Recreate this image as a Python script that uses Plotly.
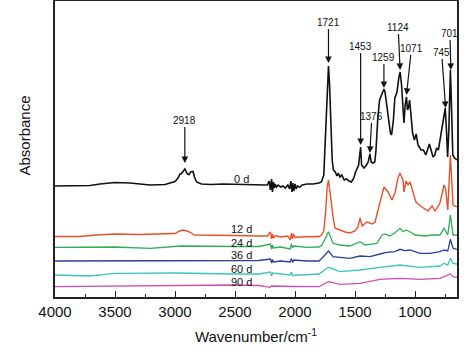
import plotly.graph_objects as go

# ---------------- data ----------------
wn_0d = [4000, 3875, 3708, 3625, 3500, 3375, 3208, 3083, 3042, 3000, 2975, 2958, 2946, 2918, 2896,
         2883, 2870, 2850, 2835, 2820, 2780, 2700, 2600, 2500, 2400, 2300, 2250,
         2230, 2215, 2205, 2195, 2188, 2180, 2172, 2165, 2155, 2140, 2120, 2100, 2080, 2060, 2045,
         2035, 2025, 2018, 2010, 2000, 1990, 1980, 1960, 1940, 1900, 1850, 1800,
         1780, 1760, 1745, 1730, 1721, 1712, 1700, 1690, 1680, 1665, 1650, 1640, 1625, 1610, 1590,
         1570, 1550, 1530, 1510, 1495, 1470, 1453, 1445, 1425, 1410, 1390, 1376, 1365, 1350, 1335,
         1325, 1310, 1295, 1280, 1259, 1250, 1235, 1220, 1205, 1195, 1180, 1168, 1160, 1150, 1135,
         1124, 1112, 1100, 1092, 1082, 1071, 1063, 1055, 1045, 1035, 1020, 1005, 990, 975, 950,
         930, 910, 880, 865, 850, 835, 820, 805, 790, 775, 760, 748, 738, 728, 718, 705, 695, 685,
         670, 650]
abs_0d = [1.11, 1.11, 1.115, 1.13, 1.145, 1.14, 1.12, 1.125, 1.14, 1.155, 1.19, 1.23, 1.235, 1.28, 1.23,
          1.225, 1.25, 1.255, 1.19, 1.15, 1.13, 1.125, 1.13, 1.125, 1.12, 1.115, 1.12,
          1.12, 1.16, 1.07, 1.18, 1.05, 1.15, 1.09, 1.13, 1.10, 1.12, 1.10, 1.11, 1.09, 1.12, 1.08,
          1.16, 1.05, 1.14, 1.06, 1.13, 1.08, 1.11, 1.10, 1.12, 1.13, 1.13, 1.14,
          1.15, 1.22, 1.67, 2.17, 2.31, 2.12, 1.67, 1.37, 1.27, 1.25, 1.21, 1.24, 1.20, 1.22, 1.17,
          1.18, 1.16, 1.15, 1.19, 1.25, 1.32, 1.50, 1.32, 1.29, 1.31, 1.35, 1.43, 1.35, 1.34, 1.35,
          1.47, 1.79, 1.97, 2.02, 2.08, 2.05, 1.92, 1.75, 1.64, 1.62, 1.77, 1.99, 2.01, 2.05, 2.19,
          2.25, 2.12, 1.89, 1.74, 1.92, 2.00, 1.87, 1.89, 1.97, 1.85, 1.64, 1.57, 1.63, 1.52, 1.47,
          1.47, 1.42, 1.53, 1.45, 1.40, 1.42, 1.49, 1.47, 1.57, 1.67, 1.77, 1.89, 1.67, 1.40, 1.67,
          2.27, 1.87, 1.42, 1.39, 1.37]

wn_12d = [4000, 3800, 3650, 3500, 3300, 3100, 3000, 2960, 2935, 2900, 2870, 2840, 2700, 2500, 2300,
          2230, 2205, 2195, 2188, 2180, 2165, 2120, 2060, 2040, 2030, 2022, 2012, 2000, 1960, 1900,
          1800, 1780, 1760, 1745, 1732, 1721, 1712, 1700, 1683, 1667, 1625, 1583, 1542, 1500, 1475,
          1458, 1440, 1400, 1358, 1333, 1308, 1275, 1258, 1225, 1192, 1167, 1142, 1125, 1100, 1092,
          1075, 1058, 1042, 1017, 992, 942, 892, 858, 833, 792, 758, 745, 727, 705, 683, 650]
abs_12d = [0.605, 0.605, 0.62, 0.63, 0.625, 0.63, 0.635, 0.66, 0.67, 0.66, 0.645, 0.62, 0.615, 0.615, 0.61,
           0.61, 0.65, 0.58, 0.63, 0.59, 0.615, 0.60, 0.61, 0.57, 0.64, 0.58, 0.63, 0.595, 0.60, 0.60,
           0.605, 0.62, 0.66, 0.85, 1.10, 1.17, 1.05, 0.97, 0.80, 0.69, 0.67, 0.65, 0.64, 0.66, 0.70,
           0.79, 0.71, 0.75, 0.73, 0.75, 0.87, 1.04, 1.10, 1.05, 0.97, 1.04, 1.19, 1.24, 1.17, 1.05,
           1.16, 1.12, 1.15, 1.05, 0.95, 0.90, 0.86, 0.91, 0.86, 0.94, 1.12, 1.08, 0.87, 1.42, 0.92, 0.90]

wn_24d = [4000, 3500, 3208, 3000, 2950, 2500, 2300, 2205, 2195, 2188, 2180, 2120, 2040, 2030, 2020,
          2010, 1900, 1800, 1775, 1750, 1721, 1700, 1683, 1625, 1542, 1458, 1417, 1375, 1317, 1275,
          1250, 1208, 1167, 1125, 1100, 1075, 1042, 1000, 917, 858, 792, 758, 727, 705, 683, 650]
abs_24d = [0.497, 0.50, 0.487, 0.503, 0.51, 0.505, 0.505, 0.53, 0.48, 0.52, 0.49, 0.50, 0.48, 0.53, 0.49,
           0.51, 0.497, 0.50, 0.52, 0.58, 0.653, 0.59, 0.537, 0.52, 0.51, 0.553, 0.52, 0.527, 0.537, 0.62,
           0.63, 0.61, 0.643, 0.687, 0.653, 0.67, 0.653, 0.62, 0.61, 0.62, 0.62, 0.687, 0.62, 0.82, 0.62, 0.62]

wn_36d = [4000, 3500, 3000, 2500, 2300, 2205, 2195, 2188, 2180, 2120, 2040, 2030, 2020, 2010, 1900,
          1800, 1775, 1721, 1683, 1625, 1542, 1458, 1375, 1292, 1250, 1167, 1125, 1083, 1042, 958,
          875, 792, 758, 727, 705, 683, 650]
abs_36d = [0.36, 0.36, 0.36, 0.36, 0.365, 0.38, 0.34, 0.375, 0.35, 0.36, 0.35, 0.385, 0.345, 0.37, 0.36,
           0.36, 0.387, 0.46, 0.403, 0.397, 0.387, 0.41, 0.403, 0.43, 0.443, 0.453, 0.477, 0.463, 0.47, 0.437,
           0.437, 0.453, 0.47, 0.46, 0.577, 0.487, 0.477]

wn_60d = [4000, 3708, 3500, 3000, 2500, 2300, 2205, 2195, 2188, 2120, 2040, 2030, 2020, 1800, 1721,
          1625, 1458, 1292, 1125, 958, 792, 758, 727, 705, 683, 650]
abs_60d = [0.22, 0.21, 0.237, 0.24, 0.23, 0.23, 0.25, 0.21, 0.24, 0.23, 0.22, 0.25, 0.215, 0.23, 0.297,
           0.253, 0.27, 0.297, 0.32, 0.297, 0.31, 0.337, 0.32, 0.387, 0.337, 0.33]

wn_90d = [4000, 3500, 3000, 2500, 2300, 2208, 2195, 2030, 2010, 1800, 1721, 1625, 1458, 1292, 1125,
          958, 792, 705, 683, 650]
abs_90d = [0.103, 0.11, 0.115, 0.12, 0.115, 0.097, 0.11, 0.10, 0.105, 0.103, 0.153, 0.127, 0.137, 0.177, 0.187,
           0.177, 0.187, 0.23, 0.203, 0.197]

series_names = ["0 d", "12 d", "24 d", "36 d", "60 d", "90 d"]
series_wn = [wn_0d, wn_12d, wn_24d, wn_36d, wn_60d, wn_90d]
series_abs = [abs_0d, abs_12d, abs_24d, abs_36d, abs_60d, abs_90d]
label_wn = 2450
label_abs = [1.18, 0.677, 0.543, 0.417, 0.283, 0.153]

peak_labels = ["2918", "1721", "1453", "1376", "1259", "1124", "1071", "745", "701"]
peak_wn = [2918, 1721, 1453, 1376, 1259, 1124, 1071, 745, 701]
peak_abs = [1.34, 2.34, 1.52, 1.44, 2.09, 2.27, 2.02, 1.89, 2.27]

x_ticks = [4000, 3500, 3000, 2500, 2000, 1500, 1000]

# ---------------- styling ----------------
colors = ["#111111", "#E8502A", "#2DAF55", "#2E3F9C", "#40C2C0", "#CF4FB0"]
widths = [1.6, 1.4, 1.3, 1.3, 1.3, 1.3]
arrow_off = [(0, -43), (0, -41), (0, -99), (2, -37), (0, -31), (-2, -43), (5, -47), (-4, -56), (-1, -37)]
FONT = "Arial, Liberation Sans, sans-serif"

fig = go.Figure()
for name, xs, ys, c, w in zip(series_names, series_wn, series_abs, colors, widths):
    fig.add_trace(go.Scatter(x=xs, y=ys, mode="lines", name=name,
                             line=dict(color=c, width=w), showlegend=False))

annotations = []
for name, ya in zip(series_names, label_abs):
    annotations.append(dict(x=label_wn, y=ya, xref="x", yref="y", text=name, showarrow=False,
                            font=dict(family=FONT, size=11, color="#111111")))
for txt, xw, ya, (ax, ay) in zip(peak_labels, peak_wn, peak_abs, arrow_off):
    annotations.append(dict(x=xw, y=ya, xref="x", yref="y", text=txt, showarrow=True,
                            ax=ax, ay=ay, arrowhead=2, arrowsize=1.1, arrowwidth=1.2,
                            arrowcolor="#111111", standoff=0,
                            font=dict(family=FONT, size=10, color="#111111")))
# y-axis title (placed as rotated text to match the reference position)
annotations.append(dict(x=-0.075, y=0.545, xref="paper", yref="paper", text="Absorbance",
                        textangle=-90, showarrow=False, xanchor="center", yanchor="middle",
                        font=dict(family=FONT, size=15, color="#111111")))

fig.update_layout(
    width=474, height=356,
    margin=dict(l=55, r=17, t=1, b=59),
    paper_bgcolor="white", plot_bgcolor="white",
    font=dict(family=FONT, size=15, color="#111111"),
    annotations=annotations,
    xaxis=dict(range=[4000, 650], tickvals=x_ticks, ticks="inside", ticklen=6, tickwidth=1.2,
               tickcolor="#222222", showline=True, linecolor="#222222", linewidth=1.5, mirror=True,
               showgrid=False, zeroline=False, tickfont=dict(size=15), automargin=False,
               minor=dict(ticks="inside", ticklen=3, dtick=250, tick0=0, tickcolor="#222222", showgrid=False),
               title=dict(text="Wavenumber/cm<sup>-1</sup>", font=dict(size=15), standoff=13)),
    yaxis=dict(range=[0, 2.96], showticklabels=False, ticks="", showline=True, linecolor="#222222",
               linewidth=1.5, mirror=True, showgrid=False, zeroline=False, automargin=False),
)

fig.write_html("out.html", config={"displayModeBar": False},
               post_script="document.body.style.margin='0';")
